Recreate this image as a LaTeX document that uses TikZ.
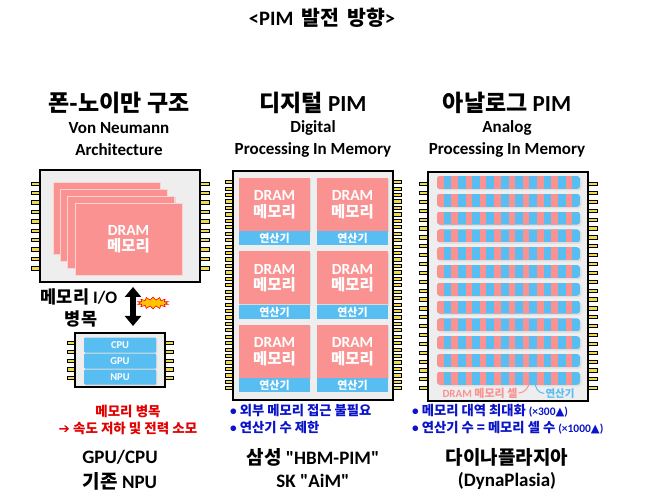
\documentclass[tikz,border=0pt]{standalone}
\usepackage{fontspec}
\setmainfont{Carlito}
\newfontfamily\plainf{Carlito}
\newfontfamily\kr{Noto Sans CJK KR}
\newfontfamily\symf{DejaVu Sans}
\usetikzlibrary{arrows.meta,shadows,shapes.symbols,calc}
\definecolor{pinkc}{RGB}{250,146,146}
\definecolor{bluec}{RGB}{88,190,242}
\definecolor{chipbg}{RGB}{238,238,238}
\definecolor{pinY}{RGB}{238,218,80}
\definecolor{redt}{RGB}{226,0,0}
\definecolor{bluet}{RGB}{10,20,200}
\definecolor{boomY}{RGB}{255,196,0}
\newcommand\K[1]{{\kr #1}}
\newcommand\fs[1]{\fontsize{#1}{#1}\selectfont}
\newcommand\dq{{\plainf\char34}}
\tikzset{
  txt/.style={inner sep=0pt, align=center, font=\bfseries},
  ttl/.style={txt, font=\bfseries\fs{20.5}},
  head/.style={txt, font=\bfseries\fs{23}},
  sub/.style={txt, font=\bfseries\fs{17}},
  bot/.style={txt, font=\bfseries\fs{19}},
  bul/.style={txt, align=left, anchor=west, text=bluet, font=\bfseries\fs{13.3}},
  chip/.style={draw=black, line width=1.5pt, fill=chipbg, inner sep=0pt},
  pinst/.style={draw=black, line width=0.5pt, fill=pinY},
  sh/.style={drop shadow={opacity=0.18, shadow xshift=1pt, shadow yshift=-1.2pt}},
  cell/.style={fill=pinkc, inner sep=0pt, minimum width=71pt, minimum height=53pt,
    text=white, align=center, font=\bfseries\fs{15.5}, sh},
  alu/.style={fill=bluec, inner sep=0pt, minimum width=71pt, minimum height=14pt,
    text=white, font=\bfseries\fs{11}, anchor=north},
  bar/.style={fill=bluec, inner sep=0pt, minimum width=72pt, minimum height=15pt,
    rounded corners=1pt, text=white, font=\bfseries\fs{10.5}, sh},
  layer/.style={fill=pinkc, draw=white!60!pinkc, line width=0.6pt, sh},
}
\begin{document}
\begin{tikzpicture}[x=1pt,y=-1pt]
\useasboundingbox (0,0) rectangle (658,502);
\fill[white] (0,0) rectangle (658,502);

% ---- titles
\node[ttl] (title) at (322,18) {<PIM\hspace{8pt}\K{발전}\hspace{8pt}\K{방향}>};
\node[head] (h1) at (119,103) {\K{폰-노이만 구조}};
\node[head] (h2) at (313,103) {\K{디지털} PIM};
\node[head] (h3) at (507,103) {\K{아날로그} PIM};
\node[sub] (s1a) at (119,128) {Von Neumann};
\node[sub] (s1b) at (119,150) {Architecture};
\node[sub] (s2a) at (313,128) {Digital};
\node[sub] (s2b) at (313,150) {Processing In Memory};
\node[sub] (s3a) at (507,128) {Analog};
\node[sub] (s3b) at (507,150) {Processing In Memory};

% ---- left: von Neumann
\foreach \k in {0,...,9}{
  \pgfmathsetmacro\yy{183.5+9.4*\k}
  \draw[pinst] (31,\yy-1.7) rectangle (40,\yy+1.7);
  \draw[pinst] (200,\yy-1.7) rectangle (209,\yy+1.7);
}
\node[chip, minimum width=160pt, minimum height=112pt] (vchip) at (120,226) {};
\foreach \k in {0,...,3}{
  \draw[layer] (53+7.3*\k,182+7*\k) rectangle (160+7.3*\k,254+7*\k);
}
\node[txt, text=white, font=\bfseries\fs{15.5}] (dramtxt) at (128.5,239) {DRAM\\[1pt]\K{메모리}};

\node[txt, font=\bfseries\fs{17.5}] (iolbl) at (79,297) {\K{메모리} I/O};
\node[txt, font=\bfseries\fs{17.5}] (bnlbl) at (81,319) {\K{병목}};

\foreach \yy in {343,351.7,360.5,369.2,378}{
  \draw[pinst] (67,\yy-1.6) rectangle (75,\yy+1.6);
  \draw[pinst] (165,\yy-1.6) rectangle (173,\yy+1.6);
}
\node[chip, minimum width=90pt, minimum height=54pt] (cchip) at (120,360) {};
\node[bar] (cpu) at (120,345) {CPU};
\node[bar] (gpu) at (120,361) {GPU};
\node[bar] (npu) at (120,377) {NPU};

\coordinate (atop) at (133,287);
\coordinate (abot) at (133,326);
\draw[line width=5.5pt, {Triangle[width=16pt,length=10pt]}-{Triangle[width=16pt,length=10pt]}] (atop) -- (abot);
\node[starburst, starburst points=14, starburst point height=3pt, random starburst=0,
  fill=boomY, draw=red, line width=0.6pt, minimum width=31pt, minimum height=12pt, inner sep=0pt] (boom) at (153,303) {};

% ---- middle: digital PIM
\foreach \k in {0,...,32}{
  \pgfmathsetmacro\yy{182+6.44*\k}
  \draw[pinst] (225,\yy-1.6) rectangle (233.5,\yy+1.6);
  \draw[pinst] (393,\yy-1.6) rectangle (401.5,\yy+1.6);
}
\node[chip, minimum width=160pt, minimum height=229pt] (dchip) at (313,285.5) {};
\foreach \c/\cx in {1/274.5,2/352.5}{
  \foreach \r/\ry in {1/204.5,2/278,3/351.5}{
    \node[cell] (m\c\r) at (\cx,\ry) {DRAM\\[1pt]\K{메모리}};
    \node[alu] (a\c\r) at (m\c\r.south) {\K{연산기}};
  }
}

% ---- right: analog PIM
\foreach \k in {0,...,23}{
  \pgfmathsetmacro\yy{184+8.87*\k}
  \draw[pinst] (419,\yy-1.6) rectangle (428,\yy+1.6);
  \draw[pinst] (588,\yy-1.6) rectangle (597,\yy+1.6);
}
\node[chip, minimum width=160pt, minimum height=229pt] (achip) at (508,286.5) {};
\foreach \r in {0,...,11}{
  \pgfmathsetmacro\ty{176+17.8*\r}
  \fill[black!13, rounded corners=3pt] (438.5,\ty+1.3) rectangle (581.5,\ty+14.5);
  \begin{scope}
    \clip[rounded corners=3pt] (437,\ty) rectangle (580,\ty+13);
    \fill[bluec] (437,\ty) rectangle (580,\ty+13);
    \foreach \c in {0,...,9}{
      \fill[pinkc] (437+14.3*\c,\ty) rectangle (443.5+14.3*\c,\ty+13);
    }
  \end{scope}
}
\node[txt, text=pinkc, font=\bfseries\fs{11}] (rdram) at (480,393) {DRAM \K{메모리 셀}};
\node[txt, text=bluec, font=\bfseries\fs{10.5}] (ralu) at (560,393.5) {\K{연산기}};
\draw[pinkc, line width=1pt] (rdram.east) ++(1,0) .. controls +(6,0) and +(0,4) .. (529,383);
\draw[bluec, line width=1pt] (ralu.west) ++(-1,0) .. controls +(-6,0) and +(0,4) .. (535,383);

% ---- bottom texts
\node[txt, text=redt, font=\bfseries\fs{13.5}] (red1) at (128,411) {\K{메모리 병목}};
\node[txt, text=redt, font=\bfseries\fs{13.5}] (red2) at (128,428) {{\symf ➔} \K{속도 저하 및 전력 소모}};
\node[bul] (b1) at (230,411) {• \K{외부 메모리 접근 불필요}};
\node[bul] (b2) at (230,428) {• \K{연산기 수 제한}};
\node[bul] (b3) at (412,411) {• \K{메모리 대역 최대화} {\fs{11.5}(×300{\symf▲})}};
\node[bul] (b4) at (412,428) {• \K{연산기 수 = 메모리 셀 수} {\fs{11.5}(×1000{\symf▲})}};

\node[bot] (g1) at (120,457) {GPU/CPU};
\node[bot] (g2) at (120,481) {\K{기존} NPU};
\node[bot] (g3) at (313,457) {\K{삼성} \dq HBM-PIM\dq};
\node[bot] (g4) at (313,481) {SK \dq AiM\dq};
\node[bot] (g5) at (507,457) {\K{다이나플라지아}};
\node[bot] (g6) at (507,481) {(DynaPlasia)};
\end{tikzpicture}
\end{document}
